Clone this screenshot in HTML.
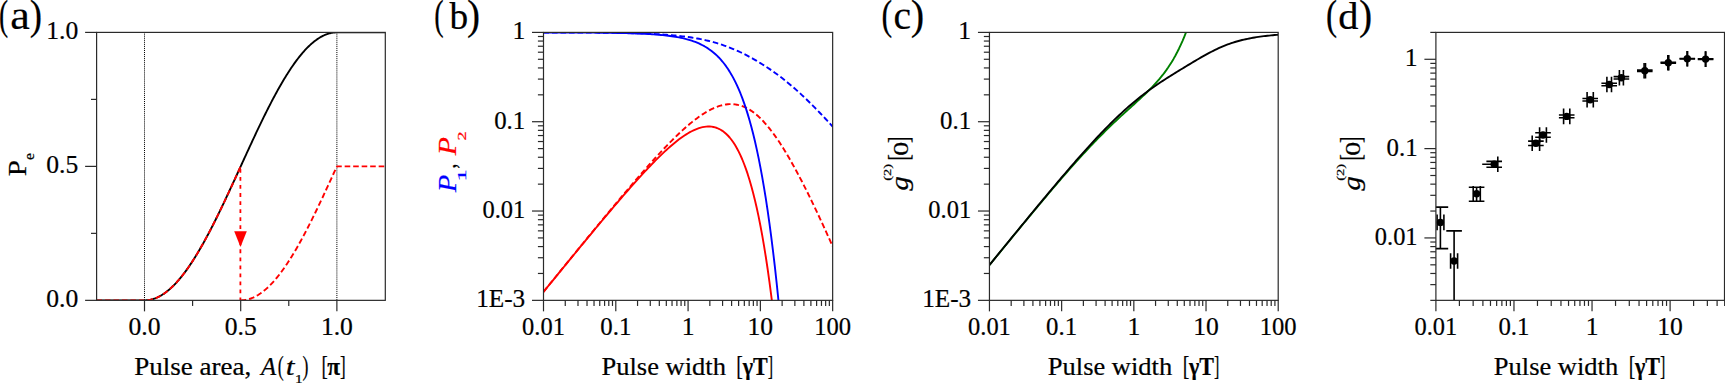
<!DOCTYPE html>
<html lang="en">
<head>
<meta charset="utf-8">
<title>Two-photon emission figure</title>
<style>
html,body{margin:0;padding:0;background:#fff;}
body{width:1725px;height:384px;overflow:hidden;}
svg{display:block;font-family:"Liberation Serif", serif;}
text{stroke-width:0.22px;paint-order:stroke fill;}
</style>
</head>
<body>
<svg width="1725" height="384" viewBox="0 0 1725 384">
<rect width="1725" height="384" fill="#fff"/>
<g id="panel-a">
<line x1="144.5" y1="32.4" x2="144.5" y2="300.35" stroke="#000" stroke-width="1.0" stroke-dasharray="1 0.96"/>
<line x1="336.88" y1="32.4" x2="336.88" y2="300.35" stroke="#000" stroke-width="1.0" stroke-dasharray="1 0.96"/>
<clipPath id="clipa"><rect x="96.6" y="32.4" width="288.7" height="267.95"/></clipPath>
<g clip-path="url(#clipa)">
<path d="M96.41 300.35 L97.13 300.35 L97.85 300.35 L98.57 300.35 L99.3 300.35 L100.02 300.35 L100.74 300.35 L101.47 300.35 L102.19 300.35 L102.91 300.35 L103.64 300.35 L104.36 300.35 L105.08 300.35 L105.81 300.35 L106.53 300.35 L107.25 300.35 L107.98 300.35 L108.7 300.35 L109.42 300.35 L110.15 300.35 L110.87 300.35 L111.59 300.35 L112.32 300.35 L113.04 300.35 L113.76 300.35 L114.49 300.35 L115.21 300.35 L115.93 300.35 L116.66 300.35 L117.38 300.35 L118.1 300.35 L118.83 300.35 L119.55 300.35 L120.27 300.35 L120.99 300.35 L121.72 300.35 L122.44 300.35 L123.16 300.35 L123.89 300.35 L124.61 300.35 L125.33 300.35 L126.06 300.35 L126.78 300.35 L127.5 300.35 L128.23 300.35 L128.95 300.35 L129.67 300.35 L130.4 300.35 L131.12 300.35 L131.84 300.35 L132.57 300.35 L133.29 300.35 L134.01 300.35 L134.74 300.35 L135.46 300.35 L136.18 300.35 L136.91 300.35 L137.63 300.35 L138.35 300.35 L139.08 300.35 L139.8 300.35 L140.52 300.35 L141.25 300.35 L141.97 300.35 L142.69 300.35 L143.42 300.35 L144.14 300.35 L144.86 300.35 L145.58 300.33 L146.31 300.29 L147.03 300.24 L147.75 300.16 L148.48 300.07 L149.2 299.96 L149.92 299.82 L150.65 299.68 L151.37 299.51 L152.09 299.32 L152.82 299.12 L153.54 298.89 L154.26 298.65 L154.99 298.39 L155.71 298.11 L156.43 297.81 L157.16 297.5 L157.88 297.16 L158.6 296.81 L159.33 296.44 L160.05 296.05 L160.77 295.65 L161.5 295.22 L162.22 294.78 L162.94 294.32 L163.67 293.84 L164.39 293.35 L165.11 292.83 L165.84 292.3 L166.56 291.75 L167.28 291.18 L168.01 290.6 L168.73 290 L169.45 289.38 L170.17 288.75 L170.9 288.09 L171.62 287.42 L172.34 286.74 L173.07 286.03 L173.79 285.31 L174.51 284.58 L175.24 283.82 L175.96 283.05 L176.68 282.27 L177.41 281.47 L178.13 280.65 L178.85 279.81 L179.58 278.97 L180.3 278.1 L181.02 277.22 L181.75 276.32 L182.47 275.41 L183.19 274.48 L183.92 273.54 L184.64 272.58 L185.36 271.61 L186.09 270.63 L186.81 269.62 L187.53 268.61 L188.26 267.58 L188.98 266.54 L189.7 265.48 L190.43 264.41 L191.15 263.32 L191.87 262.22 L192.59 261.11 L193.32 259.98 L194.04 258.85 L194.76 257.69 L195.49 256.53 L196.21 255.35 L196.93 254.16 L197.66 252.96 L198.38 251.75 L199.1 250.52 L199.83 249.29 L200.55 248.04 L201.27 246.78 L202 245.51 L202.72 244.22 L203.44 242.93 L204.17 241.63 L204.89 240.31 L205.61 238.99 L206.34 237.65 L207.06 236.31 L207.78 234.95 L208.51 233.59 L209.23 232.22 L209.95 230.83 L210.68 229.44 L211.4 228.04 L212.12 226.63 L212.85 225.22 L213.57 223.79 L214.29 222.36 L215.02 220.92 L215.74 219.47 L216.46 218.01 L217.18 216.55 L217.91 215.08 L218.63 213.6 L219.35 212.11 L220.08 210.62 L220.8 209.13 L221.52 207.63 L222.25 206.12 L222.97 204.6 L223.69 203.08 L224.42 201.56 L225.14 200.03 L225.86 198.5 L226.59 196.96 L227.31 195.42 L228.03 193.87 L228.76 192.32 L229.48 190.76 L230.2 189.21 L230.93 187.65 L231.65 186.08 L232.37 184.52 L233.1 182.95 L233.82 181.38 L234.54 179.8 L235.27 178.23 L235.99 176.65 L236.71 175.07 L237.44 173.49 L238.16 171.91 L238.88 170.33 L239.61 168.75 L240.33 167.17 L241.05 165.58 L241.77 164 L242.5 162.42 L243.22 160.84 L243.94 159.26 L244.67 157.68 L245.39 156.1 L246.11 154.52 L246.84 152.95 L247.56 151.37 L248.28 149.8 L249.01 148.23 L249.73 146.67 L250.45 145.1 L251.18 143.54 L251.9 141.99 L252.62 140.43 L253.35 138.88 L254.07 137.33 L254.79 135.79 L255.52 134.25 L256.24 132.72 L256.96 131.19 L257.69 129.67 L258.41 128.15 L259.13 126.63 L259.86 125.12 L260.58 123.62 L261.3 122.13 L262.03 120.64 L262.75 119.15 L263.47 117.67 L264.2 116.2 L264.92 114.74 L265.64 113.28 L266.36 111.83 L267.09 110.39 L267.81 108.96 L268.53 107.53 L269.26 106.12 L269.98 104.71 L270.7 103.31 L271.43 101.92 L272.15 100.53 L272.87 99.16 L273.6 97.8 L274.32 96.44 L275.04 95.1 L275.77 93.76 L276.49 92.44 L277.21 91.12 L277.94 89.82 L278.66 88.53 L279.38 87.24 L280.11 85.97 L280.83 84.71 L281.55 83.46 L282.28 82.23 L283 81 L283.72 79.79 L284.45 78.59 L285.17 77.4 L285.89 76.22 L286.62 75.06 L287.34 73.9 L288.06 72.77 L288.78 71.64 L289.51 70.53 L290.23 69.43 L290.95 68.34 L291.68 67.27 L292.4 66.21 L293.12 65.17 L293.85 64.14 L294.57 63.13 L295.29 62.12 L296.02 61.14 L296.74 60.17 L297.46 59.21 L298.19 58.27 L298.91 57.34 L299.63 56.43 L300.36 55.53 L301.08 54.65 L301.8 53.78 L302.53 52.94 L303.25 52.1 L303.97 51.28 L304.7 50.48 L305.42 49.7 L306.14 48.93 L306.87 48.17 L307.59 47.44 L308.31 46.72 L309.04 46.01 L309.76 45.33 L310.48 44.66 L311.21 44 L311.93 43.37 L312.65 42.75 L313.37 42.15 L314.1 41.57 L314.82 41 L315.54 40.45 L316.27 39.92 L316.99 39.4 L317.71 38.91 L318.44 38.43 L319.16 37.97 L319.88 37.53 L320.61 37.1 L321.33 36.7 L322.05 36.31 L322.78 35.94 L323.5 35.59 L324.22 35.25 L324.95 34.94 L325.67 34.64 L326.39 34.36 L327.12 34.1 L327.84 33.86 L328.56 33.63 L329.29 33.43 L330.01 33.24 L330.73 33.07 L331.46 32.93 L332.18 32.79 L332.9 32.68 L333.63 32.59 L334.35 32.51 L335.07 32.46 L335.8 32.42 L336.52 32.4 L337.24 32.4 L337.96 32.4 L338.69 32.4 L339.41 32.4 L340.13 32.4 L340.86 32.4 L341.58 32.4 L342.3 32.4 L343.03 32.4 L343.75 32.4 L344.47 32.4 L345.2 32.4 L345.92 32.4 L346.64 32.4 L347.37 32.4 L348.09 32.4 L348.81 32.4 L349.54 32.4 L350.26 32.4 L350.98 32.4 L351.71 32.4 L352.43 32.4 L353.15 32.4 L353.88 32.4 L354.6 32.4 L355.32 32.4 L356.05 32.4 L356.77 32.4 L357.49 32.4 L358.22 32.4 L358.94 32.4 L359.66 32.4 L360.39 32.4 L361.11 32.4 L361.83 32.4 L362.55 32.4 L363.28 32.4 L364 32.4 L364.72 32.4 L365.45 32.4 L366.17 32.4 L366.89 32.4 L367.62 32.4 L368.34 32.4 L369.06 32.4 L369.79 32.4 L370.51 32.4 L371.23 32.4 L371.96 32.4 L372.68 32.4 L373.4 32.4 L374.13 32.4 L374.85 32.4 L375.57 32.4 L376.3 32.4 L377.02 32.4 L377.74 32.4 L378.47 32.4 L379.19 32.4 L379.91 32.4 L380.64 32.4 L381.36 32.4 L382.08 32.4 L382.81 32.4 L383.53 32.4 L384.25 32.4 L384.98 32.4" fill="none" stroke="#000" stroke-width="1.9" stroke-linejoin="round"/>
<path d="M96.41 300.35 L97.13 300.35 L97.86 300.35 L98.58 300.35 L99.31 300.35 L100.03 300.35 L100.76 300.35 L101.48 300.35 L102.21 300.35 L102.93 300.35 L103.66 300.35 L104.38 300.35 L105.11 300.35 L105.83 300.35 L106.56 300.35 L107.28 300.35 L108.01 300.35 L108.73 300.35 L109.46 300.35 L110.18 300.35 L110.91 300.35 L111.63 300.35 L112.36 300.35 L113.08 300.35 L113.81 300.35 L114.53 300.35 L115.26 300.35 L115.98 300.35 L116.71 300.35 L117.43 300.35 L118.16 300.35 L118.88 300.35 L119.61 300.35 L120.33 300.35 L121.06 300.35 L121.78 300.35 L122.51 300.35 L123.23 300.35 L123.96 300.35 L124.68 300.35 L125.41 300.35 L126.13 300.35 L126.86 300.35 L127.58 300.35 L128.31 300.35 L129.03 300.35 L129.76 300.35 L130.48 300.35 L131.21 300.35 L131.93 300.35 L132.66 300.35 L133.38 300.35 L134.11 300.35 L134.83 300.35 L135.56 300.35 L136.28 300.35 L137.01 300.35 L137.73 300.35 L138.46 300.35 L139.18 300.35 L139.91 300.35 L140.63 300.35 L141.36 300.35 L142.08 300.35 L142.81 300.35 L143.53 300.35 L144.26 300.35 L144.98 300.35 L145.71 300.32 L146.43 300.28 L147.16 300.22 L147.88 300.15 L148.61 300.05 L149.33 299.93 L150.06 299.8 L150.78 299.65 L151.51 299.47 L152.23 299.28 L152.96 299.07 L153.68 298.85 L154.41 298.6 L155.13 298.33 L155.86 298.05 L156.58 297.75 L157.31 297.43 L158.03 297.09 L158.76 296.73 L159.48 296.36 L160.21 295.97 L160.93 295.55 L161.66 295.12 L162.38 294.68 L163.11 294.21 L163.83 293.73 L164.56 293.23 L165.28 292.71 L166.01 292.17 L166.73 291.61 L167.46 291.04 L168.18 290.45 L168.91 289.85 L169.64 289.22 L170.36 288.58 L171.09 287.92 L171.81 287.25 L172.54 286.55 L173.26 285.84 L173.99 285.12 L174.71 284.37 L175.44 283.61 L176.16 282.84 L176.89 282.05 L177.61 281.24 L178.34 280.41 L179.06 279.57 L179.79 278.72 L180.51 277.84 L181.24 276.96 L181.96 276.05 L182.69 275.13 L183.41 274.2 L184.14 273.25 L184.86 272.29 L185.59 271.31 L186.31 270.32 L187.04 269.31 L187.76 268.28 L188.49 267.25 L189.21 266.2 L189.94 265.13 L190.66 264.05 L191.39 262.96 L192.11 261.85 L192.84 260.74 L193.56 259.6 L194.29 258.46 L195.01 257.3 L195.74 256.13 L196.46 254.94 L197.19 253.75 L197.91 252.54 L198.64 251.32 L199.36 250.08 L200.09 248.84 L200.81 247.58 L201.54 246.32 L202.26 245.04 L202.99 243.75 L203.71 242.45 L204.44 241.14 L205.16 239.82 L205.89 238.48 L206.61 237.14 L207.34 235.79 L208.06 234.43 L208.79 233.06 L209.51 231.68 L210.24 230.29 L210.96 228.89 L211.69 227.48 L212.41 226.06 L213.14 224.64 L213.86 223.21 L214.59 221.77 L215.31 220.32 L216.04 218.86 L216.76 217.4 L217.49 215.93 L218.21 214.45 L218.94 212.97 L219.66 211.48 L220.39 209.98 L221.11 208.48 L221.84 206.97 L222.56 205.46 L223.29 203.94 L224.01 202.41 L224.74 200.88 L225.46 199.34 L226.19 197.81 L226.91 196.26 L227.64 194.71 L228.36 193.16 L229.09 191.6 L229.81 190.04 L230.54 188.48 L231.26 186.92 L231.99 185.35 L232.71 183.77 L233.44 182.2 L234.16 180.62 L234.89 179.05 L235.61 177.47 L236.34 175.88 L237.06 174.3 L237.79 172.72 L238.51 171.13 L239.24 169.55 L239.96 167.96 L240.69 166.38" fill="none" stroke="#ff0000" stroke-width="1.9" stroke-dasharray="5.6 2.9"/>
<path d="M240.69 300.35 L241.42 300.34 L242.14 300.31 L242.87 300.27 L243.59 300.2 L244.32 300.12 L245.04 300.01 L245.77 299.89 L246.49 299.75 L247.22 299.59 L247.94 299.41 L248.67 299.22 L249.39 299 L250.12 298.77 L250.84 298.51 L251.57 298.24 L252.29 297.95 L253.02 297.65 L253.74 297.32 L254.47 296.97 L255.19 296.61 L255.92 296.23 L256.64 295.83 L257.37 295.41 L258.09 294.98 L258.82 294.52 L259.54 294.05 L260.27 293.56 L260.99 293.05 L261.72 292.53 L262.44 291.99 L263.17 291.43 L263.89 290.85 L264.62 290.25 L265.34 289.64 L266.07 289.01 L266.79 288.36 L267.52 287.7 L268.24 287.02 L268.97 286.32 L269.69 285.6 L270.42 284.87 L271.14 284.12 L271.87 283.36 L272.59 282.58 L273.32 281.78 L274.04 280.97 L274.77 280.14 L275.49 279.29 L276.22 278.43 L276.94 277.55 L277.67 276.66 L278.39 275.75 L279.12 274.83 L279.84 273.89 L280.57 272.93 L281.29 271.96 L282.02 270.98 L282.74 269.98 L283.47 268.97 L284.19 267.94 L284.92 266.9 L285.64 265.84 L286.37 264.77 L287.09 263.69 L287.82 262.59 L288.54 261.48 L289.27 260.36 L289.99 259.22 L290.72 258.07 L291.44 256.91 L292.17 255.73 L292.89 254.55 L293.62 253.34 L294.34 252.13 L295.07 250.91 L295.79 249.67 L296.52 248.42 L297.24 247.16 L297.97 245.89 L298.69 244.61 L299.42 243.32 L300.14 242.01 L300.87 240.7 L301.59 239.37 L302.32 238.04 L303.04 236.69 L303.77 235.34 L304.49 233.97 L305.22 232.6 L305.94 231.21 L306.67 229.82 L307.39 228.42 L308.12 227.01 L308.84 225.59 L309.57 224.16 L310.29 222.73 L311.02 221.29 L311.74 219.84 L312.47 218.38 L313.2 216.91 L313.92 215.44 L314.65 213.96 L315.37 212.47 L316.1 210.98 L316.82 209.48 L317.55 207.98 L318.27 206.47 L319 204.95 L319.72 203.43 L320.45 201.9 L321.17 200.37 L321.9 198.83 L322.62 197.29 L323.35 195.75 L324.07 194.2 L324.8 192.64 L325.52 191.08 L326.25 189.52 L326.97 187.96 L327.7 186.39 L328.42 184.82 L329.15 183.25 L329.87 181.68 L330.6 180.1 L331.32 178.52 L332.05 176.94 L332.77 175.36 L333.5 173.77 L334.22 172.19 L334.95 170.6 L335.67 169.02 L336.4 167.43 L337.12 166.38 L337.85 166.38 L338.57 166.38 L339.3 166.38 L340.02 166.38 L340.75 166.38 L341.47 166.38 L342.2 166.38 L342.92 166.38 L343.65 166.38 L344.37 166.38 L345.1 166.38 L345.82 166.38 L346.55 166.38 L347.27 166.38 L348 166.38 L348.72 166.38 L349.45 166.38 L350.17 166.38 L350.9 166.38 L351.62 166.38 L352.35 166.38 L353.07 166.38 L353.8 166.38 L354.52 166.38 L355.25 166.38 L355.97 166.38 L356.7 166.38 L357.42 166.38 L358.15 166.38 L358.87 166.38 L359.6 166.38 L360.32 166.38 L361.05 166.38 L361.77 166.38 L362.5 166.38 L363.22 166.38 L363.95 166.38 L364.67 166.38 L365.4 166.38 L366.12 166.38 L366.85 166.38 L367.57 166.38 L368.3 166.38 L369.02 166.38 L369.75 166.38 L370.47 166.38 L371.2 166.38 L371.92 166.38 L372.65 166.38 L373.37 166.38 L374.1 166.38 L374.82 166.38 L375.55 166.38 L376.27 166.38 L377 166.38 L377.72 166.38 L378.45 166.38 L379.17 166.38 L379.9 166.38 L380.62 166.38 L381.35 166.38 L382.07 166.38 L382.8 166.38 L383.52 166.38 L384.25 166.38 L384.98 166.38" fill="none" stroke="#ff0000" stroke-width="1.9" stroke-dasharray="5.6 2.9"/>
<line x1="240.39" y1="166.38" x2="240.39" y2="300.35" stroke="#ff0000" stroke-width="1.8" stroke-dasharray="3.8 4.24" stroke-dashoffset="5.45"/>
<polygon points="234.2,231.2 246.8,231.2 240.5,246.9" fill="#ff0000"/>
</g>
<rect x="96.6" y="32.4" width="288.7" height="267.95" fill="none" stroke="#2a2a2a" stroke-width="1.2"/>
<line x1="85.1" y1="300.35" x2="96.6" y2="300.35" stroke="#2a2a2a" stroke-width="1.2" />
<line x1="144.5" y1="300.35" x2="144.5" y2="311.35" stroke="#2a2a2a" stroke-width="1.2" />
<line x1="85.1" y1="166.38" x2="96.6" y2="166.38" stroke="#2a2a2a" stroke-width="1.2" />
<line x1="240.69" y1="300.35" x2="240.69" y2="311.35" stroke="#2a2a2a" stroke-width="1.2" />
<line x1="85.1" y1="32.4" x2="96.6" y2="32.4" stroke="#2a2a2a" stroke-width="1.2" />
<line x1="336.88" y1="300.35" x2="336.88" y2="311.35" stroke="#2a2a2a" stroke-width="1.2" />
<line x1="91" y1="233.36" x2="96.6" y2="233.36" stroke="#2a2a2a" stroke-width="1.2" />
<line x1="192.59" y1="300.35" x2="192.59" y2="305.95" stroke="#2a2a2a" stroke-width="1.2" />
<line x1="91" y1="99.39" x2="96.6" y2="99.39" stroke="#2a2a2a" stroke-width="1.2" />
<line x1="288.78" y1="300.35" x2="288.78" y2="305.95" stroke="#2a2a2a" stroke-width="1.2" />
<text x="78.3" y="307.35" font-size="25.6" text-anchor="end" fill="#000" stroke="#000" >0.0</text>
<text x="144.5" y="335.3" font-size="25.6" text-anchor="middle" fill="#000" stroke="#000" >0.0</text>
<text x="78.3" y="173.38" font-size="25.6" text-anchor="end" fill="#000" stroke="#000" >0.5</text>
<text x="240.69" y="335.3" font-size="25.6" text-anchor="middle" fill="#000" stroke="#000" >0.5</text>
<text x="78.3" y="39.4" font-size="25.6" text-anchor="end" fill="#000" stroke="#000" >1.0</text>
<text x="336.88" y="335.3" font-size="25.6" text-anchor="middle" fill="#000" stroke="#000" >1.0</text>
<text transform="translate(-0.88,29.2) scale(0.6465,1.0000)" font-size="42.6" fill="#000" stroke="#000">(</text>
<text transform="translate(10.25,29.2) scale(1.1026,1.0000)" font-size="40" fill="#000" stroke="#000">a</text>
<text transform="translate(29.85,29.2) scale(0.8650,1.0000)" font-size="42.6" fill="#000" stroke="#000">)</text>
<text transform="translate(134.26,375.1) scale(1.0603,1.0000)" font-size="25.5" fill="#000" stroke="#000">Pulse area,</text>
<text transform="translate(261.06,375.1) scale(0.9746,1.0000)" font-size="25.5" fill="#000" stroke="#000" font-style="italic">A</text>
<text transform="translate(277.63,375.1) scale(0.6488,1.0000)" font-size="27.5" fill="#000" stroke="#000">(</text>
<text transform="translate(285.65,375.1) scale(1.2356,1.0000)" font-size="25.5" fill="#000" stroke="#000" font-style="italic">t</text>
<text transform="translate(294.99,383) scale(1.2153,1.0000)" font-size="12.5" fill="#000" stroke="#000">1</text>
<text transform="translate(302.44,375.1) scale(0.6488,1.0000)" font-size="27.5" fill="#000" stroke="#000">)</text>
<text transform="translate(321.6,375.1) scale(0.6859,1.0000)" font-size="27.5" fill="#000" stroke="#000">[</text>
<text transform="translate(327.13,375.1) scale(0.9147,1.0000)" font-size="25.5" fill="#000" stroke="#000" font-weight="bold">π</text>
<text transform="translate(339.9,375.1) scale(0.6206,1.0000)" font-size="27.5" fill="#000" stroke="#000">]</text>
<text transform="translate(25.5,176.3) rotate(-90) scale(1.1405,1.0278)" font-size="25.5" fill="#000" stroke="#000">P</text>
<text transform="translate(33.7,159.91) rotate(-90) scale(1.1164,1.0000)" font-size="14" fill="#000" stroke="#000">e</text>
</g>
<g id="panel-b">
<clipPath id="clipb"><rect x="543.5" y="32.4" width="289.15" height="267.95"/></clipPath>
<g clip-path="url(#clipb)" fill="none" stroke-width="1.9" stroke-linejoin="round">
<path d="M543.5 291.82 L545.31 289.6 L547.11 287.37 L548.92 285.15 L550.73 282.92 L552.54 280.7 L554.34 278.48 L556.15 276.25 L557.96 274.03 L559.77 271.81 L561.57 269.59 L563.38 267.37 L565.19 265.15 L566.99 262.93 L568.8 260.72 L570.61 258.5 L572.42 256.29 L574.22 254.07 L576.03 251.86 L577.84 249.65 L579.64 247.44 L581.45 245.23 L583.26 243.02 L585.07 240.81 L586.87 238.61 L588.68 236.41 L590.49 234.21 L592.3 232.01 L594.1 229.81 L595.91 227.61 L597.72 225.42 L599.52 223.23 L601.33 221.04 L603.14 218.86 L604.95 216.67 L606.75 214.49 L608.56 212.32 L610.37 210.14 L612.18 207.97 L613.98 205.81 L615.79 203.64 L617.6 201.49 L619.4 199.33 L621.21 197.18 L623.02 195.04 L624.83 192.9 L626.63 190.77 L628.44 188.64 L630.25 186.52 L632.06 184.4 L633.86 182.3 L635.67 180.2 L637.48 178.1 L639.28 176.02 L641.09 173.94 L642.9 171.87 L644.71 169.82 L646.51 167.77 L648.32 165.73 L650.13 163.71 L651.93 161.7 L653.74 159.7 L655.55 157.71 L657.36 155.74 L659.16 153.78 L660.97 151.84 L662.78 149.92 L664.59 148.01 L666.39 146.12 L668.2 144.26 L670.01 142.41 L671.81 140.59 L673.62 138.78 L675.43 137.01 L677.24 135.26 L679.04 133.53 L680.85 131.84 L682.66 130.17 L684.47 128.54 L686.27 126.94 L688.08 125.37 L689.89 123.84 L691.69 122.36 L693.5 120.91 L695.31 119.5 L697.12 118.14 L698.92 116.83 L700.73 115.56 L702.54 114.35 L704.35 113.19 L706.15 112.09 L707.96 111.05 L709.77 110.07 L711.57 109.16 L713.38 108.31 L715.19 107.53 L717 106.83 L718.8 106.2 L720.61 105.65 L722.42 105.18 L724.23 104.79 L726.03 104.49 L727.84 104.29 L729.65 104.17 L731.45 104.15 L733.26 104.23 L735.07 104.41 L736.88 104.69 L738.68 105.07 L740.49 105.56 L742.3 106.16 L744.1 106.87 L745.91 107.69 L747.72 108.63 L749.53 109.67 L751.33 110.83 L753.14 112.1 L754.95 113.48 L756.76 114.97 L758.56 116.57 L760.37 118.28 L762.18 120.1 L763.98 122.02 L765.79 124.05 L767.6 126.17 L769.41 128.39 L771.21 130.71 L773.02 133.11 L774.83 135.6 L776.64 138.18 L778.44 140.84 L780.25 143.58 L782.06 146.4 L783.86 149.28 L785.67 152.24 L787.48 155.26 L789.29 158.35 L791.09 161.5 L792.9 164.71 L794.71 167.97 L796.51 171.29 L798.32 174.67 L800.13 178.09 L801.94 181.56 L803.74 185.08 L805.55 188.64 L807.36 192.25 L809.17 195.89 L810.97 199.58 L812.78 203.3 L814.59 207.06 L816.39 210.86 L818.2 214.69 L820.01 218.55 L821.82 222.44 L823.62 226.36 L825.43 230.3 L827.24 234.28 L829.05 238.27 L830.85 242.3 L832.66 246.34" stroke="#ff0000" stroke-dasharray="5.6 2.9"/>
<path d="M543.5 291.9 L545.31 289.68 L547.11 287.45 L548.92 285.24 L550.73 283.02 L552.54 280.8 L554.34 278.58 L556.15 276.37 L557.96 274.15 L559.77 271.94 L561.57 269.72 L563.38 267.51 L565.19 265.3 L566.99 263.09 L568.8 260.89 L570.61 258.68 L572.42 256.47 L574.22 254.27 L576.03 252.07 L577.84 249.87 L579.64 247.67 L581.45 245.48 L583.26 243.29 L585.07 241.1 L586.87 238.91 L588.68 236.72 L590.49 234.54 L592.3 232.36 L594.1 230.18 L595.91 228.01 L597.72 225.84 L599.52 223.68 L601.33 221.51 L603.14 219.36 L604.95 217.2 L606.75 215.05 L608.56 212.91 L610.37 210.77 L612.18 208.64 L613.98 206.51 L615.79 204.39 L617.6 202.28 L619.4 200.18 L621.21 198.08 L623.02 195.99 L624.83 193.9 L626.63 191.83 L628.44 189.77 L630.25 187.71 L632.06 185.67 L633.86 183.64 L635.67 181.62 L637.48 179.61 L639.28 177.61 L641.09 175.63 L642.9 173.67 L644.71 171.72 L646.51 169.78 L648.32 167.87 L650.13 165.97 L651.93 164.1 L653.74 162.24 L655.55 160.41 L657.36 158.6 L659.16 156.82 L660.97 155.06 L662.78 153.33 L664.59 151.63 L666.39 149.97 L668.2 148.33 L670.01 146.73 L671.81 145.17 L673.62 143.65 L675.43 142.17 L677.24 140.74 L679.04 139.35 L680.85 138.01 L682.66 136.73 L684.47 135.5 L686.27 134.34 L688.08 133.23 L689.89 132.19 L691.69 131.23 L693.5 130.34 L695.31 129.52 L697.12 128.79 L698.92 128.16 L700.73 127.61 L702.54 127.17 L704.35 126.83 L706.15 126.6 L707.96 126.49 L709.77 126.51 L711.57 126.66 L713.38 126.96 L715.19 127.4 L717 128 L718.8 128.77 L720.61 129.72 L722.42 130.85 L724.23 132.19 L726.03 133.73 L727.84 135.51 L729.65 137.51 L731.45 139.77 L733.26 142.3 L735.07 145.1 L736.88 148.21 L738.68 151.63 L740.49 155.39 L742.3 159.5 L744.1 163.99 L745.91 168.88 L747.72 174.18 L749.53 179.94 L751.33 186.17 L753.14 192.9 L754.95 200.16 L756.76 207.98 L758.56 216.4 L760.37 225.45 L762.18 235.17 L763.98 245.6 L765.79 256.77 L767.6 268.75 L769.41 281.56 L771.21 295.27 L773.02 309.91 L774.83 325.56 L776.64 342.27 L778.44 360.11 L780.25 379.13 L782.06 399.41 L783.86 421.02 L785.67 444.05 L787.48 468.57 L789.29 478.98 L791.09 478.98 L792.9 478.98 L794.71 478.98 L796.51 478.98 L798.32 478.98 L800.13 478.98 L801.94 478.98 L803.74 478.98 L805.55 478.98 L807.36 478.98 L809.17 478.98 L810.97 478.98 L812.78 478.98 L814.59 478.98 L816.39 478.98 L818.2 478.98 L820.01 478.98 L821.82 478.98 L823.62 478.98 L825.43 478.98 L827.24 478.98 L829.05 478.98 L830.85 478.98 L832.66 478.98" stroke="#ff0000"/>
<path d="M543.5 32.45 L545.31 32.45 L547.11 32.45 L548.92 32.46 L550.73 32.46 L552.54 32.46 L554.34 32.47 L556.15 32.47 L557.96 32.48 L559.77 32.48 L561.57 32.49 L563.38 32.49 L565.19 32.5 L566.99 32.5 L568.8 32.51 L570.61 32.51 L572.42 32.52 L574.22 32.53 L576.03 32.54 L577.84 32.54 L579.64 32.55 L581.45 32.56 L583.26 32.57 L585.07 32.58 L586.87 32.59 L588.68 32.6 L590.49 32.62 L592.3 32.63 L594.1 32.64 L595.91 32.66 L597.72 32.67 L599.52 32.69 L601.33 32.71 L603.14 32.72 L604.95 32.74 L606.75 32.76 L608.56 32.78 L610.37 32.81 L612.18 32.83 L613.98 32.86 L615.79 32.88 L617.6 32.91 L619.4 32.94 L621.21 32.97 L623.02 33.01 L624.83 33.04 L626.63 33.08 L628.44 33.12 L630.25 33.16 L632.06 33.21 L633.86 33.26 L635.67 33.31 L637.48 33.36 L639.28 33.41 L641.09 33.47 L642.9 33.54 L644.71 33.6 L646.51 33.67 L648.32 33.75 L650.13 33.83 L651.93 33.91 L653.74 34 L655.55 34.09 L657.36 34.19 L659.16 34.3 L660.97 34.41 L662.78 34.52 L664.59 34.64 L666.39 34.77 L668.2 34.91 L670.01 35.06 L671.81 35.21 L673.62 35.37 L675.43 35.54 L677.24 35.72 L679.04 35.91 L680.85 36.11 L682.66 36.32 L684.47 36.54 L686.27 36.78 L688.08 37.02 L689.89 37.28 L691.69 37.56 L693.5 37.85 L695.31 38.15 L697.12 38.47 L698.92 38.8 L700.73 39.15 L702.54 39.52 L704.35 39.91 L706.15 40.31 L707.96 40.74 L709.77 41.18 L711.57 41.65 L713.38 42.13 L715.19 42.64 L717 43.17 L718.8 43.73 L720.61 44.3 L722.42 44.9 L724.23 45.53 L726.03 46.17 L727.84 46.85 L729.65 47.54 L731.45 48.27 L733.26 49.01 L735.07 49.79 L736.88 50.58 L738.68 51.4 L740.49 52.25 L742.3 53.12 L744.1 54.01 L745.91 54.93 L747.72 55.87 L749.53 56.83 L751.33 57.82 L753.14 58.83 L754.95 59.86 L756.76 60.91 L758.56 61.99 L760.37 63.08 L762.18 64.2 L763.98 65.35 L765.79 66.51 L767.6 67.7 L769.41 68.91 L771.21 70.15 L773.02 71.41 L774.83 72.69 L776.64 74 L778.44 75.34 L780.25 76.7 L782.06 78.09 L783.86 79.5 L785.67 80.94 L787.48 82.41 L789.29 83.9 L791.09 85.42 L792.9 86.97 L794.71 88.54 L796.51 90.14 L798.32 91.77 L800.13 93.42 L801.94 95.09 L803.74 96.78 L805.55 98.5 L807.36 100.25 L809.17 102.01 L810.97 103.8 L812.78 105.6 L814.59 107.43 L816.39 109.27 L818.2 111.13 L820.01 113.01 L821.82 114.91 L823.62 116.83 L825.43 118.75 L827.24 120.7 L829.05 122.66 L830.85 124.63 L832.66 126.62" stroke="#0000ff" stroke-dasharray="5.6 2.9"/>
<path d="M543.5 32.45 L545.31 32.45 L547.11 32.46 L548.92 32.46 L550.73 32.46 L552.54 32.47 L554.34 32.47 L556.15 32.47 L557.96 32.48 L559.77 32.48 L561.57 32.49 L563.38 32.49 L565.19 32.5 L566.99 32.51 L568.8 32.51 L570.61 32.52 L572.42 32.53 L574.22 32.53 L576.03 32.54 L577.84 32.55 L579.64 32.56 L581.45 32.57 L583.26 32.58 L585.07 32.59 L586.87 32.6 L588.68 32.61 L590.49 32.63 L592.3 32.64 L594.1 32.66 L595.91 32.67 L597.72 32.69 L599.52 32.71 L601.33 32.72 L603.14 32.74 L604.95 32.76 L606.75 32.79 L608.56 32.81 L610.37 32.84 L612.18 32.86 L613.98 32.89 L615.79 32.92 L617.6 32.96 L619.4 32.99 L621.21 33.03 L623.02 33.07 L624.83 33.11 L626.63 33.15 L628.44 33.2 L630.25 33.25 L632.06 33.31 L633.86 33.37 L635.67 33.43 L637.48 33.49 L639.28 33.57 L641.09 33.64 L642.9 33.72 L644.71 33.81 L646.51 33.9 L648.32 34 L650.13 34.11 L651.93 34.22 L653.74 34.35 L655.55 34.48 L657.36 34.62 L659.16 34.77 L660.97 34.93 L662.78 35.11 L664.59 35.3 L666.39 35.5 L668.2 35.72 L670.01 35.95 L671.81 36.2 L673.62 36.47 L675.43 36.77 L677.24 37.08 L679.04 37.42 L680.85 37.78 L682.66 38.18 L684.47 38.6 L686.27 39.06 L688.08 39.56 L689.89 40.09 L691.69 40.67 L693.5 41.29 L695.31 41.96 L697.12 42.69 L698.92 43.47 L700.73 44.32 L702.54 45.23 L704.35 46.21 L706.15 47.28 L707.96 48.42 L709.77 49.66 L711.57 51 L713.38 52.44 L715.19 53.99 L717 55.67 L718.8 57.47 L720.61 59.42 L722.42 61.51 L724.23 63.77 L726.03 66.19 L727.84 68.81 L729.65 71.62 L731.45 74.64 L733.26 77.89 L735.07 81.39 L736.88 85.14 L738.68 89.16 L740.49 93.49 L742.3 98.12 L744.1 103.1 L745.91 108.43 L747.72 114.14 L749.53 120.26 L751.33 126.81 L753.14 133.82 L754.95 141.32 L756.76 149.34 L758.56 157.91 L760.37 167.07 L762.18 176.86 L763.98 187.31 L765.79 198.47 L767.6 210.38 L769.41 223.08 L771.21 236.63 L773.02 251.07 L774.83 266.47 L776.64 282.87 L778.44 300.34 L780.25 318.95 L782.06 338.77 L783.86 359.86 L785.67 382.31 L787.48 406.19 L789.29 431.59 L791.09 458.61 L792.9 478.98 L794.71 478.98 L796.51 478.98 L798.32 478.98 L800.13 478.98 L801.94 478.98 L803.74 478.98 L805.55 478.98 L807.36 478.98 L809.17 478.98 L810.97 478.98 L812.78 478.98 L814.59 478.98 L816.39 478.98 L818.2 478.98 L820.01 478.98 L821.82 478.98 L823.62 478.98 L825.43 478.98 L827.24 478.98 L829.05 478.98 L830.85 478.98 L832.66 478.98" stroke="#0000ff"/>
</g>
<rect x="543.5" y="32.4" width="289.15" height="267.95" fill="none" stroke="#2a2a2a" stroke-width="1.2"/>
<line x1="543.5" y1="300.35" x2="543.5" y2="311.35" stroke="#2a2a2a" stroke-width="1.2" />
<line x1="565.26" y1="300.35" x2="565.26" y2="305.95" stroke="#2a2a2a" stroke-width="1.2" />
<line x1="577.99" y1="300.35" x2="577.99" y2="305.95" stroke="#2a2a2a" stroke-width="1.2" />
<line x1="587.02" y1="300.35" x2="587.02" y2="305.95" stroke="#2a2a2a" stroke-width="1.2" />
<line x1="594.03" y1="300.35" x2="594.03" y2="305.95" stroke="#2a2a2a" stroke-width="1.2" />
<line x1="599.75" y1="300.35" x2="599.75" y2="305.95" stroke="#2a2a2a" stroke-width="1.2" />
<line x1="604.59" y1="300.35" x2="604.59" y2="305.95" stroke="#2a2a2a" stroke-width="1.2" />
<line x1="608.78" y1="300.35" x2="608.78" y2="305.95" stroke="#2a2a2a" stroke-width="1.2" />
<line x1="612.48" y1="300.35" x2="612.48" y2="305.95" stroke="#2a2a2a" stroke-width="1.2" />
<line x1="615.79" y1="300.35" x2="615.79" y2="311.35" stroke="#2a2a2a" stroke-width="1.2" />
<line x1="637.55" y1="300.35" x2="637.55" y2="305.95" stroke="#2a2a2a" stroke-width="1.2" />
<line x1="650.28" y1="300.35" x2="650.28" y2="305.95" stroke="#2a2a2a" stroke-width="1.2" />
<line x1="659.31" y1="300.35" x2="659.31" y2="305.95" stroke="#2a2a2a" stroke-width="1.2" />
<line x1="666.32" y1="300.35" x2="666.32" y2="305.95" stroke="#2a2a2a" stroke-width="1.2" />
<line x1="672.04" y1="300.35" x2="672.04" y2="305.95" stroke="#2a2a2a" stroke-width="1.2" />
<line x1="676.88" y1="300.35" x2="676.88" y2="305.95" stroke="#2a2a2a" stroke-width="1.2" />
<line x1="681.07" y1="300.35" x2="681.07" y2="305.95" stroke="#2a2a2a" stroke-width="1.2" />
<line x1="684.77" y1="300.35" x2="684.77" y2="305.95" stroke="#2a2a2a" stroke-width="1.2" />
<line x1="688.08" y1="300.35" x2="688.08" y2="311.35" stroke="#2a2a2a" stroke-width="1.2" />
<line x1="709.84" y1="300.35" x2="709.84" y2="305.95" stroke="#2a2a2a" stroke-width="1.2" />
<line x1="722.57" y1="300.35" x2="722.57" y2="305.95" stroke="#2a2a2a" stroke-width="1.2" />
<line x1="731.6" y1="300.35" x2="731.6" y2="305.95" stroke="#2a2a2a" stroke-width="1.2" />
<line x1="738.61" y1="300.35" x2="738.61" y2="305.95" stroke="#2a2a2a" stroke-width="1.2" />
<line x1="744.33" y1="300.35" x2="744.33" y2="305.95" stroke="#2a2a2a" stroke-width="1.2" />
<line x1="749.17" y1="300.35" x2="749.17" y2="305.95" stroke="#2a2a2a" stroke-width="1.2" />
<line x1="753.36" y1="300.35" x2="753.36" y2="305.95" stroke="#2a2a2a" stroke-width="1.2" />
<line x1="757.06" y1="300.35" x2="757.06" y2="305.95" stroke="#2a2a2a" stroke-width="1.2" />
<line x1="760.37" y1="300.35" x2="760.37" y2="311.35" stroke="#2a2a2a" stroke-width="1.2" />
<line x1="782.13" y1="300.35" x2="782.13" y2="305.95" stroke="#2a2a2a" stroke-width="1.2" />
<line x1="794.86" y1="300.35" x2="794.86" y2="305.95" stroke="#2a2a2a" stroke-width="1.2" />
<line x1="803.89" y1="300.35" x2="803.89" y2="305.95" stroke="#2a2a2a" stroke-width="1.2" />
<line x1="810.9" y1="300.35" x2="810.9" y2="305.95" stroke="#2a2a2a" stroke-width="1.2" />
<line x1="816.62" y1="300.35" x2="816.62" y2="305.95" stroke="#2a2a2a" stroke-width="1.2" />
<line x1="821.46" y1="300.35" x2="821.46" y2="305.95" stroke="#2a2a2a" stroke-width="1.2" />
<line x1="825.65" y1="300.35" x2="825.65" y2="305.95" stroke="#2a2a2a" stroke-width="1.2" />
<line x1="829.35" y1="300.35" x2="829.35" y2="305.95" stroke="#2a2a2a" stroke-width="1.2" />
<line x1="832.66" y1="300.35" x2="832.66" y2="311.35" stroke="#2a2a2a" stroke-width="1.2" />
<line x1="532" y1="300.35" x2="543.5" y2="300.35" stroke="#2a2a2a" stroke-width="1.2" />
<line x1="537.9" y1="273.46" x2="543.5" y2="273.46" stroke="#2a2a2a" stroke-width="1.2" />
<line x1="537.9" y1="257.74" x2="543.5" y2="257.74" stroke="#2a2a2a" stroke-width="1.2" />
<line x1="537.9" y1="246.58" x2="543.5" y2="246.58" stroke="#2a2a2a" stroke-width="1.2" />
<line x1="537.9" y1="237.92" x2="543.5" y2="237.92" stroke="#2a2a2a" stroke-width="1.2" />
<line x1="537.9" y1="230.85" x2="543.5" y2="230.85" stroke="#2a2a2a" stroke-width="1.2" />
<line x1="537.9" y1="224.87" x2="543.5" y2="224.87" stroke="#2a2a2a" stroke-width="1.2" />
<line x1="537.9" y1="219.69" x2="543.5" y2="219.69" stroke="#2a2a2a" stroke-width="1.2" />
<line x1="537.9" y1="215.12" x2="543.5" y2="215.12" stroke="#2a2a2a" stroke-width="1.2" />
<line x1="532" y1="211.03" x2="543.5" y2="211.03" stroke="#2a2a2a" stroke-width="1.2" />
<line x1="537.9" y1="184.15" x2="543.5" y2="184.15" stroke="#2a2a2a" stroke-width="1.2" />
<line x1="537.9" y1="168.42" x2="543.5" y2="168.42" stroke="#2a2a2a" stroke-width="1.2" />
<line x1="537.9" y1="157.26" x2="543.5" y2="157.26" stroke="#2a2a2a" stroke-width="1.2" />
<line x1="537.9" y1="148.6" x2="543.5" y2="148.6" stroke="#2a2a2a" stroke-width="1.2" />
<line x1="537.9" y1="141.53" x2="543.5" y2="141.53" stroke="#2a2a2a" stroke-width="1.2" />
<line x1="537.9" y1="135.55" x2="543.5" y2="135.55" stroke="#2a2a2a" stroke-width="1.2" />
<line x1="537.9" y1="130.37" x2="543.5" y2="130.37" stroke="#2a2a2a" stroke-width="1.2" />
<line x1="537.9" y1="125.8" x2="543.5" y2="125.8" stroke="#2a2a2a" stroke-width="1.2" />
<line x1="532" y1="121.72" x2="543.5" y2="121.72" stroke="#2a2a2a" stroke-width="1.2" />
<line x1="537.9" y1="94.83" x2="543.5" y2="94.83" stroke="#2a2a2a" stroke-width="1.2" />
<line x1="537.9" y1="79.1" x2="543.5" y2="79.1" stroke="#2a2a2a" stroke-width="1.2" />
<line x1="537.9" y1="67.94" x2="543.5" y2="67.94" stroke="#2a2a2a" stroke-width="1.2" />
<line x1="537.9" y1="59.29" x2="543.5" y2="59.29" stroke="#2a2a2a" stroke-width="1.2" />
<line x1="537.9" y1="52.21" x2="543.5" y2="52.21" stroke="#2a2a2a" stroke-width="1.2" />
<line x1="537.9" y1="46.24" x2="543.5" y2="46.24" stroke="#2a2a2a" stroke-width="1.2" />
<line x1="537.9" y1="41.06" x2="543.5" y2="41.06" stroke="#2a2a2a" stroke-width="1.2" />
<line x1="537.9" y1="36.49" x2="543.5" y2="36.49" stroke="#2a2a2a" stroke-width="1.2" />
<line x1="532" y1="32.4" x2="543.5" y2="32.4" stroke="#2a2a2a" stroke-width="1.2" />
<text x="525.2" y="39.4" font-size="25.6" text-anchor="end" fill="#000" stroke="#000" >1</text>
<text x="525.2" y="128.72" font-size="25.6" text-anchor="end" fill="#000" stroke="#000" textLength="31.04" lengthAdjust="spacingAndGlyphs" >0.1</text>
<text x="525.2" y="218.03" font-size="25.6" text-anchor="end" fill="#000" stroke="#000" textLength="42.78" lengthAdjust="spacingAndGlyphs" >0.01</text>
<text x="525.2" y="307.35" font-size="25.6" text-anchor="end" fill="#000" stroke="#000" textLength="49.02" lengthAdjust="spacingAndGlyphs" >1E-3</text>
<text x="543.5" y="335.3" font-size="25.6" text-anchor="middle" fill="#000" stroke="#000" textLength="42.78" lengthAdjust="spacingAndGlyphs" >0.01</text>
<text x="615.79" y="335.3" font-size="25.6" text-anchor="middle" fill="#000" stroke="#000" textLength="31.04" lengthAdjust="spacingAndGlyphs" >0.1</text>
<text x="688.08" y="335.3" font-size="25.6" text-anchor="middle" fill="#000" stroke="#000" >1</text>
<text x="760.37" y="335.3" font-size="25.6" text-anchor="middle" fill="#000" stroke="#000" >10</text>
<text x="832.66" y="335.3" font-size="25.6" text-anchor="middle" fill="#000" stroke="#000" textLength="36.86" lengthAdjust="spacingAndGlyphs" >100</text>
<text transform="translate(434.28,29.2) scale(0.6647,1.0000)" font-size="42.6" fill="#000" stroke="#000">(</text>
<text transform="translate(449.5,29.2) scale(0.9692,1.0000)" font-size="38.5" fill="#000" stroke="#000">b</text>
<text transform="translate(467.08,29.2) scale(0.9196,1.0000)" font-size="42.6" fill="#000" stroke="#000">)</text>
<text transform="translate(601.48,375.1) scale(1.0393,1.0000)" font-size="25.5" fill="#000" stroke="#000">Pulse width</text>
<text transform="translate(736.33,375.1) scale(0.7186,1.0000)" font-size="27.5" fill="#000" stroke="#000">[</text>
<text transform="translate(742.69,375.1) scale(0.8645,1.0000)" font-size="25.5" fill="#000" stroke="#000" font-weight="bold">γT</text>
<text transform="translate(767.73,375.1) scale(0.5879,1.0000)" font-size="27.5" fill="#000" stroke="#000">]</text>
<text transform="translate(456.4,192.29) rotate(-90) scale(1.1302,1.0000)" font-size="25.5" fill="#0000ff" stroke="#0000ff" font-style="italic">P</text>
<text transform="translate(465.7,181.4) rotate(-90) scale(2.0396,1.0000)" font-size="12" fill="#0000ff" stroke="#0000ff">1</text>
<text transform="translate(456.4,168.84) rotate(-90) scale(0.8454,1.0000)" font-size="25.5" fill="#000" stroke="#000">,</text>
<text transform="translate(456.4,155.18) rotate(-90) scale(1.1701,1.0000)" font-size="25.5" fill="#ff0000" stroke="#ff0000" font-style="italic">P</text>
<text transform="translate(465.7,140.57) rotate(-90) scale(1.4913,1.0000)" font-size="12" fill="#ff0000" stroke="#ff0000">2</text>
</g>
<g id="panel-c">
<clipPath id="clipc"><rect x="989.45" y="32.4" width="288.75" height="267.95"/></clipPath>
<g clip-path="url(#clipc)" fill="none" stroke-width="1.9" stroke-linejoin="round">
<path d="M989.45 265.1 L991.25 262.88 L993.06 260.67 L994.86 258.45 L996.67 256.24 L998.47 254.03 L1000.28 251.82 L1002.08 249.61 L1003.89 247.4 L1005.69 245.2 L1007.5 242.99 L1009.3 240.79 L1011.11 238.59 L1012.91 236.39 L1014.72 234.19 L1016.52 232 L1018.33 229.8 L1020.13 227.61 L1021.94 225.42 L1023.74 223.24 L1025.55 221.05 L1027.35 218.87 L1029.15 216.7 L1030.96 214.52 L1032.76 212.35 L1034.57 210.18 L1036.37 208.02 L1038.18 205.86 L1039.98 203.71 L1041.79 201.56 L1043.59 199.41 L1045.4 197.27 L1047.2 195.13 L1049.01 193 L1050.81 190.87 L1052.62 188.75 L1054.42 186.64 L1056.23 184.53 L1058.03 182.43 L1059.84 180.34 L1061.64 178.25 L1063.44 176.18 L1065.25 174.11 L1067.05 172.05 L1068.86 169.99 L1070.66 167.95 L1072.47 165.92 L1074.27 163.89 L1076.08 161.88 L1077.88 159.88 L1079.69 157.89 L1081.49 155.91 L1083.3 153.94 L1085.1 151.99 L1086.91 150.05 L1088.71 148.12 L1090.52 146.21 L1092.32 144.3 L1094.13 142.42 L1095.93 140.55 L1097.74 138.69 L1099.54 136.85 L1101.34 135.02 L1103.15 133.21 L1104.95 131.42 L1106.76 129.64 L1108.56 127.87 L1110.37 126.12 L1112.17 124.39 L1113.98 122.67 L1115.78 120.96 L1117.59 119.27 L1119.39 117.59 L1121.2 115.92 L1123 114.26 L1124.81 112.61 L1126.61 110.97 L1128.42 109.34 L1130.22 107.7 L1132.03 106.08 L1133.83 104.44 L1135.63 102.81 L1137.44 101.17 L1139.24 99.52 L1141.05 97.86 L1142.85 96.17 L1144.66 94.47 L1146.46 92.74 L1148.27 90.98 L1150.07 89.18 L1151.88 87.34 L1153.68 85.44 L1155.49 83.49 L1157.29 81.47 L1159.1 79.39 L1160.9 77.22 L1162.71 74.96 L1164.51 72.59 L1166.32 70.12 L1168.12 67.53 L1169.92 64.8 L1171.73 61.93 L1173.53 58.9 L1175.34 55.69 L1177.14 52.3 L1178.95 48.7 L1180.75 44.88 L1182.56 40.83 L1184.36 36.52 L1186.17 31.94 L1187.97 27.06 L1189.78 21.86 L1191.58 16.32 L1193.39 10.42 L1195.19 4.13 L1197 -2.57 L1198.8 -9.73 L1200.61 -17.35 L1202.41 -25.49 L1204.22 -34.16 L1206.02 -43.41 L1207.82 -53.27 L1209.63 -63.78 L1211.43 -74.98 L1213.24 -86.93" stroke="#008000"/>
<path d="M989.45 265.01 L991.25 262.79 L993.06 260.57 L994.86 258.35 L996.67 256.13 L998.47 253.91 L1000.28 251.7 L1002.08 249.48 L1003.89 247.27 L1005.69 245.05 L1007.5 242.84 L1009.3 240.63 L1011.11 238.42 L1012.91 236.21 L1014.72 234 L1016.52 231.79 L1018.33 229.59 L1020.13 227.39 L1021.94 225.19 L1023.74 222.99 L1025.55 220.79 L1027.35 218.59 L1029.15 216.4 L1030.96 214.21 L1032.76 212.02 L1034.57 209.84 L1036.37 207.65 L1038.18 205.47 L1039.98 203.3 L1041.79 201.12 L1043.59 198.95 L1045.4 196.78 L1047.2 194.62 L1049.01 192.46 L1050.81 190.31 L1052.62 188.16 L1054.42 186.01 L1056.23 183.87 L1058.03 181.73 L1059.84 179.6 L1061.64 177.48 L1063.44 175.36 L1065.25 173.25 L1067.05 171.14 L1068.86 169.04 L1070.66 166.95 L1072.47 164.87 L1074.27 162.79 L1076.08 160.73 L1077.88 158.67 L1079.69 156.62 L1081.49 154.58 L1083.3 152.56 L1085.1 150.54 L1086.91 148.53 L1088.71 146.54 L1090.52 144.56 L1092.32 142.59 L1094.13 140.64 L1095.93 138.7 L1097.74 136.77 L1099.54 134.86 L1101.34 132.96 L1103.15 131.08 L1104.95 129.22 L1106.76 127.38 L1108.56 125.55 L1110.37 123.75 L1112.17 121.96 L1113.98 120.19 L1115.78 118.44 L1117.59 116.71 L1119.39 115.01 L1121.2 113.33 L1123 111.66 L1124.81 110.03 L1126.61 108.41 L1128.42 106.82 L1130.22 105.25 L1132.03 103.7 L1133.83 102.18 L1135.63 100.69 L1137.44 99.21 L1139.24 97.76 L1141.05 96.34 L1142.85 94.94 L1144.66 93.56 L1146.46 92.2 L1148.27 90.86 L1150.07 89.55 L1151.88 88.26 L1153.68 86.98 L1155.49 85.73 L1157.29 84.49 L1159.1 83.27 L1160.9 82.07 L1162.71 80.88 L1164.51 79.7 L1166.32 78.54 L1168.12 77.39 L1169.92 76.25 L1171.73 75.11 L1173.53 73.99 L1175.34 72.87 L1177.14 71.75 L1178.95 70.65 L1180.75 69.54 L1182.56 68.44 L1184.36 67.34 L1186.17 66.25 L1187.97 65.16 L1189.78 64.07 L1191.58 62.99 L1193.39 61.91 L1195.19 60.84 L1197 59.78 L1198.8 58.72 L1200.61 57.68 L1202.41 56.65 L1204.22 55.63 L1206.02 54.63 L1207.82 53.64 L1209.63 52.68 L1211.43 51.73 L1213.24 50.81 L1215.04 49.92 L1216.85 49.05 L1218.65 48.21 L1220.46 47.4 L1222.26 46.62 L1224.07 45.88 L1225.87 45.16 L1227.68 44.47 L1229.48 43.81 L1231.29 43.19 L1233.09 42.59 L1234.9 42.03 L1236.7 41.49 L1238.51 40.98 L1240.31 40.5 L1242.12 40.04 L1243.92 39.61 L1245.72 39.2 L1247.53 38.81 L1249.33 38.45 L1251.14 38.11 L1252.94 37.78 L1254.75 37.47 L1256.55 37.18 L1258.36 36.91 L1260.16 36.65 L1261.97 36.41 L1263.77 36.18 L1265.58 35.97 L1267.38 35.77 L1269.19 35.57 L1270.99 35.39 L1272.8 35.22 L1274.6 35.06 L1276.41 34.91 L1278.21 34.77" stroke="#000"/>
</g>
<rect x="989.45" y="32.4" width="288.75" height="267.95" fill="none" stroke="#2a2a2a" stroke-width="1.2"/>
<line x1="989.45" y1="300.35" x2="989.45" y2="311.35" stroke="#2a2a2a" stroke-width="1.2" />
<line x1="1011.18" y1="300.35" x2="1011.18" y2="305.95" stroke="#2a2a2a" stroke-width="1.2" />
<line x1="1023.89" y1="300.35" x2="1023.89" y2="305.95" stroke="#2a2a2a" stroke-width="1.2" />
<line x1="1032.91" y1="300.35" x2="1032.91" y2="305.95" stroke="#2a2a2a" stroke-width="1.2" />
<line x1="1039.91" y1="300.35" x2="1039.91" y2="305.95" stroke="#2a2a2a" stroke-width="1.2" />
<line x1="1045.62" y1="300.35" x2="1045.62" y2="305.95" stroke="#2a2a2a" stroke-width="1.2" />
<line x1="1050.46" y1="300.35" x2="1050.46" y2="305.95" stroke="#2a2a2a" stroke-width="1.2" />
<line x1="1054.64" y1="300.35" x2="1054.64" y2="305.95" stroke="#2a2a2a" stroke-width="1.2" />
<line x1="1058.34" y1="300.35" x2="1058.34" y2="305.95" stroke="#2a2a2a" stroke-width="1.2" />
<line x1="1061.64" y1="300.35" x2="1061.64" y2="311.35" stroke="#2a2a2a" stroke-width="1.2" />
<line x1="1083.37" y1="300.35" x2="1083.37" y2="305.95" stroke="#2a2a2a" stroke-width="1.2" />
<line x1="1096.08" y1="300.35" x2="1096.08" y2="305.95" stroke="#2a2a2a" stroke-width="1.2" />
<line x1="1105.1" y1="300.35" x2="1105.1" y2="305.95" stroke="#2a2a2a" stroke-width="1.2" />
<line x1="1112.1" y1="300.35" x2="1112.1" y2="305.95" stroke="#2a2a2a" stroke-width="1.2" />
<line x1="1117.81" y1="300.35" x2="1117.81" y2="305.95" stroke="#2a2a2a" stroke-width="1.2" />
<line x1="1122.65" y1="300.35" x2="1122.65" y2="305.95" stroke="#2a2a2a" stroke-width="1.2" />
<line x1="1126.83" y1="300.35" x2="1126.83" y2="305.95" stroke="#2a2a2a" stroke-width="1.2" />
<line x1="1130.53" y1="300.35" x2="1130.53" y2="305.95" stroke="#2a2a2a" stroke-width="1.2" />
<line x1="1133.83" y1="300.35" x2="1133.83" y2="311.35" stroke="#2a2a2a" stroke-width="1.2" />
<line x1="1155.56" y1="300.35" x2="1155.56" y2="305.95" stroke="#2a2a2a" stroke-width="1.2" />
<line x1="1168.27" y1="300.35" x2="1168.27" y2="305.95" stroke="#2a2a2a" stroke-width="1.2" />
<line x1="1177.29" y1="300.35" x2="1177.29" y2="305.95" stroke="#2a2a2a" stroke-width="1.2" />
<line x1="1184.29" y1="300.35" x2="1184.29" y2="305.95" stroke="#2a2a2a" stroke-width="1.2" />
<line x1="1190" y1="300.35" x2="1190" y2="305.95" stroke="#2a2a2a" stroke-width="1.2" />
<line x1="1194.84" y1="300.35" x2="1194.84" y2="305.95" stroke="#2a2a2a" stroke-width="1.2" />
<line x1="1199.02" y1="300.35" x2="1199.02" y2="305.95" stroke="#2a2a2a" stroke-width="1.2" />
<line x1="1202.72" y1="300.35" x2="1202.72" y2="305.95" stroke="#2a2a2a" stroke-width="1.2" />
<line x1="1206.02" y1="300.35" x2="1206.02" y2="311.35" stroke="#2a2a2a" stroke-width="1.2" />
<line x1="1227.75" y1="300.35" x2="1227.75" y2="305.95" stroke="#2a2a2a" stroke-width="1.2" />
<line x1="1240.46" y1="300.35" x2="1240.46" y2="305.95" stroke="#2a2a2a" stroke-width="1.2" />
<line x1="1249.48" y1="300.35" x2="1249.48" y2="305.95" stroke="#2a2a2a" stroke-width="1.2" />
<line x1="1256.48" y1="300.35" x2="1256.48" y2="305.95" stroke="#2a2a2a" stroke-width="1.2" />
<line x1="1262.19" y1="300.35" x2="1262.19" y2="305.95" stroke="#2a2a2a" stroke-width="1.2" />
<line x1="1267.03" y1="300.35" x2="1267.03" y2="305.95" stroke="#2a2a2a" stroke-width="1.2" />
<line x1="1271.21" y1="300.35" x2="1271.21" y2="305.95" stroke="#2a2a2a" stroke-width="1.2" />
<line x1="1274.91" y1="300.35" x2="1274.91" y2="305.95" stroke="#2a2a2a" stroke-width="1.2" />
<line x1="1278.21" y1="300.35" x2="1278.21" y2="311.35" stroke="#2a2a2a" stroke-width="1.2" />
<line x1="977.95" y1="300.35" x2="989.45" y2="300.35" stroke="#2a2a2a" stroke-width="1.2" />
<line x1="983.85" y1="273.46" x2="989.45" y2="273.46" stroke="#2a2a2a" stroke-width="1.2" />
<line x1="983.85" y1="257.74" x2="989.45" y2="257.74" stroke="#2a2a2a" stroke-width="1.2" />
<line x1="983.85" y1="246.58" x2="989.45" y2="246.58" stroke="#2a2a2a" stroke-width="1.2" />
<line x1="983.85" y1="237.92" x2="989.45" y2="237.92" stroke="#2a2a2a" stroke-width="1.2" />
<line x1="983.85" y1="230.85" x2="989.45" y2="230.85" stroke="#2a2a2a" stroke-width="1.2" />
<line x1="983.85" y1="224.87" x2="989.45" y2="224.87" stroke="#2a2a2a" stroke-width="1.2" />
<line x1="983.85" y1="219.69" x2="989.45" y2="219.69" stroke="#2a2a2a" stroke-width="1.2" />
<line x1="983.85" y1="215.12" x2="989.45" y2="215.12" stroke="#2a2a2a" stroke-width="1.2" />
<line x1="977.95" y1="211.03" x2="989.45" y2="211.03" stroke="#2a2a2a" stroke-width="1.2" />
<line x1="983.85" y1="184.15" x2="989.45" y2="184.15" stroke="#2a2a2a" stroke-width="1.2" />
<line x1="983.85" y1="168.42" x2="989.45" y2="168.42" stroke="#2a2a2a" stroke-width="1.2" />
<line x1="983.85" y1="157.26" x2="989.45" y2="157.26" stroke="#2a2a2a" stroke-width="1.2" />
<line x1="983.85" y1="148.6" x2="989.45" y2="148.6" stroke="#2a2a2a" stroke-width="1.2" />
<line x1="983.85" y1="141.53" x2="989.45" y2="141.53" stroke="#2a2a2a" stroke-width="1.2" />
<line x1="983.85" y1="135.55" x2="989.45" y2="135.55" stroke="#2a2a2a" stroke-width="1.2" />
<line x1="983.85" y1="130.37" x2="989.45" y2="130.37" stroke="#2a2a2a" stroke-width="1.2" />
<line x1="983.85" y1="125.8" x2="989.45" y2="125.8" stroke="#2a2a2a" stroke-width="1.2" />
<line x1="977.95" y1="121.72" x2="989.45" y2="121.72" stroke="#2a2a2a" stroke-width="1.2" />
<line x1="983.85" y1="94.83" x2="989.45" y2="94.83" stroke="#2a2a2a" stroke-width="1.2" />
<line x1="983.85" y1="79.1" x2="989.45" y2="79.1" stroke="#2a2a2a" stroke-width="1.2" />
<line x1="983.85" y1="67.94" x2="989.45" y2="67.94" stroke="#2a2a2a" stroke-width="1.2" />
<line x1="983.85" y1="59.29" x2="989.45" y2="59.29" stroke="#2a2a2a" stroke-width="1.2" />
<line x1="983.85" y1="52.21" x2="989.45" y2="52.21" stroke="#2a2a2a" stroke-width="1.2" />
<line x1="983.85" y1="46.24" x2="989.45" y2="46.24" stroke="#2a2a2a" stroke-width="1.2" />
<line x1="983.85" y1="41.06" x2="989.45" y2="41.06" stroke="#2a2a2a" stroke-width="1.2" />
<line x1="983.85" y1="36.49" x2="989.45" y2="36.49" stroke="#2a2a2a" stroke-width="1.2" />
<line x1="977.95" y1="32.4" x2="989.45" y2="32.4" stroke="#2a2a2a" stroke-width="1.2" />
<text x="971.15" y="39.4" font-size="25.6" text-anchor="end" fill="#000" stroke="#000" >1</text>
<text x="971.15" y="128.72" font-size="25.6" text-anchor="end" fill="#000" stroke="#000" textLength="31.04" lengthAdjust="spacingAndGlyphs" >0.1</text>
<text x="971.15" y="218.03" font-size="25.6" text-anchor="end" fill="#000" stroke="#000" textLength="42.78" lengthAdjust="spacingAndGlyphs" >0.01</text>
<text x="971.15" y="307.35" font-size="25.6" text-anchor="end" fill="#000" stroke="#000" textLength="49.02" lengthAdjust="spacingAndGlyphs" >1E-3</text>
<text x="989.45" y="335.3" font-size="25.6" text-anchor="middle" fill="#000" stroke="#000" textLength="42.78" lengthAdjust="spacingAndGlyphs" >0.01</text>
<text x="1061.64" y="335.3" font-size="25.6" text-anchor="middle" fill="#000" stroke="#000" textLength="31.04" lengthAdjust="spacingAndGlyphs" >0.1</text>
<text x="1133.83" y="335.3" font-size="25.6" text-anchor="middle" fill="#000" stroke="#000" >1</text>
<text x="1206.02" y="335.3" font-size="25.6" text-anchor="middle" fill="#000" stroke="#000" >10</text>
<text x="1278.21" y="335.3" font-size="25.6" text-anchor="middle" fill="#000" stroke="#000" textLength="36.86" lengthAdjust="spacingAndGlyphs" >100</text>
<text transform="translate(881.42,29.2) scale(0.7557,1.0000)" font-size="42.6" fill="#000" stroke="#000">(</text>
<text transform="translate(893.46,29.2) scale(0.9867,1.0000)" font-size="40" fill="#000" stroke="#000">c</text>
<text transform="translate(910.64,29.2) scale(0.9469,1.0000)" font-size="42.6" fill="#000" stroke="#000">)</text>
<text transform="translate(1047.78,375.1) scale(1.0393,1.0000)" font-size="25.5" fill="#000" stroke="#000">Pulse width</text>
<text transform="translate(1182.63,375.1) scale(0.7186,1.0000)" font-size="27.5" fill="#000" stroke="#000">[</text>
<text transform="translate(1188.99,375.1) scale(0.8645,1.0000)" font-size="25.5" fill="#000" stroke="#000" font-weight="bold">γT</text>
<text transform="translate(1214.03,375.1) scale(0.5879,1.0000)" font-size="27.5" fill="#000" stroke="#000">]</text>
<text transform="translate(907.7,190.8) rotate(-90) scale(1.1378,1.0000)" font-size="25.5" fill="#000" stroke="#000" font-style="italic">g</text>
<text transform="translate(891.4,180.72) rotate(-90) scale(1.3070,0.9042)" font-size="11" fill="#000" stroke="#000">(2)</text>
<text transform="translate(907.7,160.6) rotate(-90) scale(0.6505,1.0000)" font-size="29" fill="#000" stroke="#000">[</text>
<text transform="translate(908,155.69) rotate(-90) scale(1.3644,1.0000)" font-size="20.5" fill="#000" stroke="#000">0</text>
<text transform="translate(907.7,143.06) rotate(-90) scale(0.6505,1.0000)" font-size="29" fill="#000" stroke="#000">]</text>
</g>
<g id="panel-d">
<clipPath id="clipd"><rect x="1435.9" y="32.4" width="288.6" height="267.95"/></clipPath>
<g clip-path="url(#clipd)" stroke="#000" stroke-width="1.7" fill="#000">
<line x1="1440.4" y1="207.1" x2="1440.4" y2="248.6" stroke="#000" stroke-width="1.6" />
<line x1="1432.6" y1="207.1" x2="1448.2" y2="207.1" stroke="#000" stroke-width="1.6" />
<line x1="1432.6" y1="248.6" x2="1448.2" y2="248.6" stroke="#000" stroke-width="1.6" />
<line x1="1437.1" y1="222.4" x2="1443.9" y2="222.4" stroke="#000" stroke-width="1.6" />
<line x1="1437.1" y1="214.6" x2="1437.1" y2="230.2" stroke="#000" stroke-width="1.6" />
<line x1="1443.9" y1="214.6" x2="1443.9" y2="230.2" stroke="#000" stroke-width="1.6" />
<circle cx="1440.4" cy="222.4" r="3.7" stroke="none"/>
<line x1="1454.1" y1="230.9" x2="1454.1" y2="320" stroke="#000" stroke-width="1.6" />
<line x1="1446.3" y1="230.9" x2="1461.9" y2="230.9" stroke="#000" stroke-width="1.6" />
<line x1="1446.3" y1="320" x2="1461.9" y2="320" stroke="#000" stroke-width="1.6" />
<line x1="1450.6" y1="261" x2="1457.6" y2="261" stroke="#000" stroke-width="1.6" />
<line x1="1450.6" y1="253.2" x2="1450.6" y2="268.8" stroke="#000" stroke-width="1.6" />
<line x1="1457.6" y1="253.2" x2="1457.6" y2="268.8" stroke="#000" stroke-width="1.6" />
<circle cx="1454.1" cy="261" r="3.7" stroke="none"/>
<line x1="1476.6" y1="187.3" x2="1476.6" y2="201.3" stroke="#000" stroke-width="1.6" />
<line x1="1468.8" y1="187.3" x2="1484.4" y2="187.3" stroke="#000" stroke-width="1.6" />
<line x1="1468.8" y1="201.3" x2="1484.4" y2="201.3" stroke="#000" stroke-width="1.6" />
<line x1="1473.2" y1="193.8" x2="1480.3" y2="193.8" stroke="#000" stroke-width="1.6" />
<line x1="1473.2" y1="186" x2="1473.2" y2="201.6" stroke="#000" stroke-width="1.6" />
<line x1="1480.3" y1="186" x2="1480.3" y2="201.6" stroke="#000" stroke-width="1.6" />
<circle cx="1476.6" cy="193.8" r="3.7" stroke="none"/>
<line x1="1494.2" y1="161.4" x2="1494.2" y2="167.2" stroke="#000" stroke-width="1.6" />
<line x1="1486.4" y1="161.4" x2="1502" y2="161.4" stroke="#000" stroke-width="1.6" />
<line x1="1486.4" y1="167.2" x2="1502" y2="167.2" stroke="#000" stroke-width="1.6" />
<line x1="1482.2" y1="164.3" x2="1497.8" y2="164.3" stroke="#000" stroke-width="1.6" />
<line x1="1497.8" y1="156.5" x2="1497.8" y2="172.1" stroke="#000" stroke-width="1.6" />
<circle cx="1494.2" cy="164.3" r="3.7" stroke="none"/>
<line x1="1535.9" y1="141.1" x2="1535.9" y2="145.5" stroke="#000" stroke-width="1.6" />
<line x1="1528.1" y1="141.1" x2="1543.7" y2="141.1" stroke="#000" stroke-width="1.6" />
<line x1="1528.1" y1="145.5" x2="1543.7" y2="145.5" stroke="#000" stroke-width="1.6" />
<line x1="1532.2" y1="143.3" x2="1539.6" y2="143.3" stroke="#000" stroke-width="1.6" />
<line x1="1532.2" y1="135.5" x2="1532.2" y2="151.1" stroke="#000" stroke-width="1.6" />
<line x1="1539.6" y1="135.5" x2="1539.6" y2="151.1" stroke="#000" stroke-width="1.6" />
<circle cx="1535.9" cy="143.3" r="3.7" stroke="none"/>
<line x1="1543" y1="132.7" x2="1543" y2="137.3" stroke="#000" stroke-width="1.6" />
<line x1="1535.2" y1="132.7" x2="1550.8" y2="132.7" stroke="#000" stroke-width="1.6" />
<line x1="1535.2" y1="137.3" x2="1550.8" y2="137.3" stroke="#000" stroke-width="1.6" />
<line x1="1539.6" y1="135" x2="1546.4" y2="135" stroke="#000" stroke-width="1.6" />
<line x1="1539.6" y1="127.2" x2="1539.6" y2="142.8" stroke="#000" stroke-width="1.6" />
<line x1="1546.4" y1="127.2" x2="1546.4" y2="142.8" stroke="#000" stroke-width="1.6" />
<circle cx="1543" cy="135" r="3.7" stroke="none"/>
<line x1="1566.7" y1="115" x2="1566.7" y2="117.8" stroke="#000" stroke-width="1.6" />
<line x1="1558.9" y1="115" x2="1574.5" y2="115" stroke="#000" stroke-width="1.6" />
<line x1="1558.9" y1="117.8" x2="1574.5" y2="117.8" stroke="#000" stroke-width="1.6" />
<line x1="1563.6" y1="116.4" x2="1569.8" y2="116.4" stroke="#000" stroke-width="1.6" />
<line x1="1563.6" y1="108.6" x2="1563.6" y2="124.2" stroke="#000" stroke-width="1.6" />
<line x1="1569.8" y1="108.6" x2="1569.8" y2="124.2" stroke="#000" stroke-width="1.6" />
<circle cx="1566.7" cy="116.4" r="3.7" stroke="none"/>
<line x1="1590.2" y1="98.45" x2="1590.2" y2="100.95" stroke="#000" stroke-width="1.6" />
<line x1="1582.4" y1="98.45" x2="1598" y2="98.45" stroke="#000" stroke-width="1.6" />
<line x1="1582.4" y1="100.95" x2="1598" y2="100.95" stroke="#000" stroke-width="1.6" />
<line x1="1587.1" y1="99.7" x2="1593.3" y2="99.7" stroke="#000" stroke-width="1.6" />
<line x1="1587.1" y1="91.9" x2="1587.1" y2="107.5" stroke="#000" stroke-width="1.6" />
<line x1="1593.3" y1="91.9" x2="1593.3" y2="107.5" stroke="#000" stroke-width="1.6" />
<circle cx="1590.2" cy="99.7" r="3.7" stroke="none"/>
<line x1="1609.2" y1="83.3" x2="1609.2" y2="85.7" stroke="#000" stroke-width="1.6" />
<line x1="1601.4" y1="83.3" x2="1617" y2="83.3" stroke="#000" stroke-width="1.6" />
<line x1="1601.4" y1="85.7" x2="1617" y2="85.7" stroke="#000" stroke-width="1.6" />
<line x1="1606.9" y1="84.5" x2="1611.5" y2="84.5" stroke="#000" stroke-width="1.6" />
<line x1="1606.9" y1="76.7" x2="1606.9" y2="92.3" stroke="#000" stroke-width="1.6" />
<line x1="1611.5" y1="76.7" x2="1611.5" y2="92.3" stroke="#000" stroke-width="1.6" />
<circle cx="1609.2" cy="84.5" r="3.7" stroke="none"/>
<line x1="1621.4" y1="76.6" x2="1621.4" y2="79" stroke="#000" stroke-width="1.6" />
<line x1="1613.6" y1="76.6" x2="1629.2" y2="76.6" stroke="#000" stroke-width="1.6" />
<line x1="1613.6" y1="79" x2="1629.2" y2="79" stroke="#000" stroke-width="1.6" />
<line x1="1619.4" y1="77.8" x2="1623.4" y2="77.8" stroke="#000" stroke-width="1.6" />
<line x1="1619.4" y1="70" x2="1619.4" y2="85.6" stroke="#000" stroke-width="1.6" />
<line x1="1623.4" y1="70" x2="1623.4" y2="85.6" stroke="#000" stroke-width="1.6" />
<circle cx="1621.4" cy="77.8" r="3.7" stroke="none"/>
<line x1="1644.8" y1="70.1" x2="1644.8" y2="71.5" stroke="#000" stroke-width="1.6" />
<line x1="1637" y1="70.1" x2="1652.6" y2="70.1" stroke="#000" stroke-width="1.6" />
<line x1="1637" y1="71.5" x2="1652.6" y2="71.5" stroke="#000" stroke-width="1.6" />
<line x1="1644.1" y1="70.8" x2="1645.5" y2="70.8" stroke="#000" stroke-width="1.6" />
<line x1="1644.1" y1="63" x2="1644.1" y2="78.6" stroke="#000" stroke-width="1.6" />
<line x1="1645.5" y1="63" x2="1645.5" y2="78.6" stroke="#000" stroke-width="1.6" />
<circle cx="1644.8" cy="70.8" r="3.7" stroke="none"/>
<line x1="1668.3" y1="62.2" x2="1668.3" y2="63.2" stroke="#000" stroke-width="1.6" />
<line x1="1660.5" y1="62.2" x2="1676.1" y2="62.2" stroke="#000" stroke-width="1.6" />
<line x1="1660.5" y1="63.2" x2="1676.1" y2="63.2" stroke="#000" stroke-width="1.6" />
<line x1="1667.8" y1="62.7" x2="1668.8" y2="62.7" stroke="#000" stroke-width="1.6" />
<line x1="1667.8" y1="54.9" x2="1667.8" y2="70.5" stroke="#000" stroke-width="1.6" />
<line x1="1668.8" y1="54.9" x2="1668.8" y2="70.5" stroke="#000" stroke-width="1.6" />
<circle cx="1668.3" cy="62.7" r="3.7" stroke="none"/>
<line x1="1687.3" y1="58.45" x2="1687.3" y2="59.05" stroke="#000" stroke-width="1.6" />
<line x1="1679.5" y1="58.45" x2="1695.1" y2="58.45" stroke="#000" stroke-width="1.6" />
<line x1="1679.5" y1="59.05" x2="1695.1" y2="59.05" stroke="#000" stroke-width="1.6" />
<line x1="1687" y1="58.75" x2="1687.6" y2="58.75" stroke="#000" stroke-width="1.6" />
<line x1="1687" y1="50.95" x2="1687" y2="66.55" stroke="#000" stroke-width="1.6" />
<line x1="1687.6" y1="50.95" x2="1687.6" y2="66.55" stroke="#000" stroke-width="1.6" />
<circle cx="1687.3" cy="58.75" r="3.7" stroke="none"/>
<line x1="1705.6" y1="58.8" x2="1705.6" y2="59.4" stroke="#000" stroke-width="1.6" />
<line x1="1697.8" y1="58.8" x2="1713.4" y2="58.8" stroke="#000" stroke-width="1.6" />
<line x1="1697.8" y1="59.4" x2="1713.4" y2="59.4" stroke="#000" stroke-width="1.6" />
<line x1="1705.3" y1="59.1" x2="1705.9" y2="59.1" stroke="#000" stroke-width="1.6" />
<line x1="1705.3" y1="51.3" x2="1705.3" y2="66.9" stroke="#000" stroke-width="1.6" />
<line x1="1705.9" y1="51.3" x2="1705.9" y2="66.9" stroke="#000" stroke-width="1.6" />
<circle cx="1705.6" cy="59.1" r="3.7" stroke="none"/>
</g>
<rect x="1435.9" y="32.4" width="288.6" height="267.95" fill="none" stroke="#2a2a2a" stroke-width="1.2"/>
<line x1="1435.9" y1="300.35" x2="1435.9" y2="311.35" stroke="#2a2a2a" stroke-width="1.2" />
<line x1="1459.4" y1="300.35" x2="1459.4" y2="305.95" stroke="#2a2a2a" stroke-width="1.2" />
<line x1="1473.15" y1="300.35" x2="1473.15" y2="305.95" stroke="#2a2a2a" stroke-width="1.2" />
<line x1="1482.9" y1="300.35" x2="1482.9" y2="305.95" stroke="#2a2a2a" stroke-width="1.2" />
<line x1="1490.47" y1="300.35" x2="1490.47" y2="305.95" stroke="#2a2a2a" stroke-width="1.2" />
<line x1="1496.65" y1="300.35" x2="1496.65" y2="305.95" stroke="#2a2a2a" stroke-width="1.2" />
<line x1="1501.88" y1="300.35" x2="1501.88" y2="305.95" stroke="#2a2a2a" stroke-width="1.2" />
<line x1="1506.4" y1="300.35" x2="1506.4" y2="305.95" stroke="#2a2a2a" stroke-width="1.2" />
<line x1="1510.4" y1="300.35" x2="1510.4" y2="305.95" stroke="#2a2a2a" stroke-width="1.2" />
<line x1="1513.97" y1="300.35" x2="1513.97" y2="311.35" stroke="#2a2a2a" stroke-width="1.2" />
<line x1="1537.47" y1="300.35" x2="1537.47" y2="305.95" stroke="#2a2a2a" stroke-width="1.2" />
<line x1="1551.22" y1="300.35" x2="1551.22" y2="305.95" stroke="#2a2a2a" stroke-width="1.2" />
<line x1="1560.97" y1="300.35" x2="1560.97" y2="305.95" stroke="#2a2a2a" stroke-width="1.2" />
<line x1="1568.54" y1="300.35" x2="1568.54" y2="305.95" stroke="#2a2a2a" stroke-width="1.2" />
<line x1="1574.72" y1="300.35" x2="1574.72" y2="305.95" stroke="#2a2a2a" stroke-width="1.2" />
<line x1="1579.95" y1="300.35" x2="1579.95" y2="305.95" stroke="#2a2a2a" stroke-width="1.2" />
<line x1="1584.47" y1="300.35" x2="1584.47" y2="305.95" stroke="#2a2a2a" stroke-width="1.2" />
<line x1="1588.47" y1="300.35" x2="1588.47" y2="305.95" stroke="#2a2a2a" stroke-width="1.2" />
<line x1="1592.04" y1="300.35" x2="1592.04" y2="311.35" stroke="#2a2a2a" stroke-width="1.2" />
<line x1="1615.54" y1="300.35" x2="1615.54" y2="305.95" stroke="#2a2a2a" stroke-width="1.2" />
<line x1="1629.29" y1="300.35" x2="1629.29" y2="305.95" stroke="#2a2a2a" stroke-width="1.2" />
<line x1="1639.04" y1="300.35" x2="1639.04" y2="305.95" stroke="#2a2a2a" stroke-width="1.2" />
<line x1="1646.61" y1="300.35" x2="1646.61" y2="305.95" stroke="#2a2a2a" stroke-width="1.2" />
<line x1="1652.79" y1="300.35" x2="1652.79" y2="305.95" stroke="#2a2a2a" stroke-width="1.2" />
<line x1="1658.02" y1="300.35" x2="1658.02" y2="305.95" stroke="#2a2a2a" stroke-width="1.2" />
<line x1="1662.54" y1="300.35" x2="1662.54" y2="305.95" stroke="#2a2a2a" stroke-width="1.2" />
<line x1="1666.54" y1="300.35" x2="1666.54" y2="305.95" stroke="#2a2a2a" stroke-width="1.2" />
<line x1="1670.11" y1="300.35" x2="1670.11" y2="311.35" stroke="#2a2a2a" stroke-width="1.2" />
<line x1="1693.61" y1="300.35" x2="1693.61" y2="305.95" stroke="#2a2a2a" stroke-width="1.2" />
<line x1="1707.36" y1="300.35" x2="1707.36" y2="305.95" stroke="#2a2a2a" stroke-width="1.2" />
<line x1="1717.11" y1="300.35" x2="1717.11" y2="305.95" stroke="#2a2a2a" stroke-width="1.2" />
<line x1="1724.68" y1="300.35" x2="1724.68" y2="305.95" stroke="#2a2a2a" stroke-width="1.2" />
<line x1="1430.3" y1="300.36" x2="1435.9" y2="300.36" stroke="#2a2a2a" stroke-width="1.2" />
<line x1="1430.3" y1="284.63" x2="1435.9" y2="284.63" stroke="#2a2a2a" stroke-width="1.2" />
<line x1="1430.3" y1="273.47" x2="1435.9" y2="273.47" stroke="#2a2a2a" stroke-width="1.2" />
<line x1="1430.3" y1="264.82" x2="1435.9" y2="264.82" stroke="#2a2a2a" stroke-width="1.2" />
<line x1="1430.3" y1="257.75" x2="1435.9" y2="257.75" stroke="#2a2a2a" stroke-width="1.2" />
<line x1="1430.3" y1="251.77" x2="1435.9" y2="251.77" stroke="#2a2a2a" stroke-width="1.2" />
<line x1="1430.3" y1="246.59" x2="1435.9" y2="246.59" stroke="#2a2a2a" stroke-width="1.2" />
<line x1="1430.3" y1="242.02" x2="1435.9" y2="242.02" stroke="#2a2a2a" stroke-width="1.2" />
<line x1="1424.4" y1="237.93" x2="1435.9" y2="237.93" stroke="#2a2a2a" stroke-width="1.2" />
<line x1="1430.3" y1="211.04" x2="1435.9" y2="211.04" stroke="#2a2a2a" stroke-width="1.2" />
<line x1="1430.3" y1="195.31" x2="1435.9" y2="195.31" stroke="#2a2a2a" stroke-width="1.2" />
<line x1="1430.3" y1="184.15" x2="1435.9" y2="184.15" stroke="#2a2a2a" stroke-width="1.2" />
<line x1="1430.3" y1="175.5" x2="1435.9" y2="175.5" stroke="#2a2a2a" stroke-width="1.2" />
<line x1="1430.3" y1="168.43" x2="1435.9" y2="168.43" stroke="#2a2a2a" stroke-width="1.2" />
<line x1="1430.3" y1="162.45" x2="1435.9" y2="162.45" stroke="#2a2a2a" stroke-width="1.2" />
<line x1="1430.3" y1="157.27" x2="1435.9" y2="157.27" stroke="#2a2a2a" stroke-width="1.2" />
<line x1="1430.3" y1="152.7" x2="1435.9" y2="152.7" stroke="#2a2a2a" stroke-width="1.2" />
<line x1="1424.4" y1="148.61" x2="1435.9" y2="148.61" stroke="#2a2a2a" stroke-width="1.2" />
<line x1="1430.3" y1="121.72" x2="1435.9" y2="121.72" stroke="#2a2a2a" stroke-width="1.2" />
<line x1="1430.3" y1="105.99" x2="1435.9" y2="105.99" stroke="#2a2a2a" stroke-width="1.2" />
<line x1="1430.3" y1="94.83" x2="1435.9" y2="94.83" stroke="#2a2a2a" stroke-width="1.2" />
<line x1="1430.3" y1="86.18" x2="1435.9" y2="86.18" stroke="#2a2a2a" stroke-width="1.2" />
<line x1="1430.3" y1="79.11" x2="1435.9" y2="79.11" stroke="#2a2a2a" stroke-width="1.2" />
<line x1="1430.3" y1="73.13" x2="1435.9" y2="73.13" stroke="#2a2a2a" stroke-width="1.2" />
<line x1="1430.3" y1="67.95" x2="1435.9" y2="67.95" stroke="#2a2a2a" stroke-width="1.2" />
<line x1="1430.3" y1="63.38" x2="1435.9" y2="63.38" stroke="#2a2a2a" stroke-width="1.2" />
<line x1="1424.4" y1="59.29" x2="1435.9" y2="59.29" stroke="#2a2a2a" stroke-width="1.2" />
<line x1="1430.3" y1="32.4" x2="1435.9" y2="32.4" stroke="#2a2a2a" stroke-width="1.2" />
<text x="1417.6" y="66.29" font-size="25.6" text-anchor="end" fill="#000" stroke="#000" >1</text>
<text x="1417.6" y="155.61" font-size="25.6" text-anchor="end" fill="#000" stroke="#000" textLength="31.04" lengthAdjust="spacingAndGlyphs" >0.1</text>
<text x="1417.6" y="244.93" font-size="25.6" text-anchor="end" fill="#000" stroke="#000" textLength="42.78" lengthAdjust="spacingAndGlyphs" >0.01</text>
<text x="1435.9" y="335.3" font-size="25.6" text-anchor="middle" fill="#000" stroke="#000" textLength="42.78" lengthAdjust="spacingAndGlyphs" >0.01</text>
<text x="1513.97" y="335.3" font-size="25.6" text-anchor="middle" fill="#000" stroke="#000" textLength="31.04" lengthAdjust="spacingAndGlyphs" >0.1</text>
<text x="1592.04" y="335.3" font-size="25.6" text-anchor="middle" fill="#000" stroke="#000" >1</text>
<text x="1670.11" y="335.3" font-size="25.6" text-anchor="middle" fill="#000" stroke="#000" >10</text>
<text transform="translate(1326.07,29.2) scale(0.7830,1.0000)" font-size="42.6" fill="#000" stroke="#000">(</text>
<text transform="translate(1338.28,29.2) scale(1.0490,1.0000)" font-size="38.5" fill="#000" stroke="#000">d</text>
<text transform="translate(1359.06,29.2) scale(0.9287,1.0000)" font-size="42.6" fill="#000" stroke="#000">)</text>
<text transform="translate(1493.78,375.1) scale(1.0393,1.0000)" font-size="25.5" fill="#000" stroke="#000">Pulse width</text>
<text transform="translate(1628.63,375.1) scale(0.7186,1.0000)" font-size="27.5" fill="#000" stroke="#000">[</text>
<text transform="translate(1634.99,375.1) scale(0.8645,1.0000)" font-size="25.5" fill="#000" stroke="#000" font-weight="bold">γT</text>
<text transform="translate(1660.03,375.1) scale(0.5879,1.0000)" font-size="27.5" fill="#000" stroke="#000">]</text>
<text transform="translate(1360,190.8) rotate(-90) scale(1.1378,1.0000)" font-size="25.5" fill="#000" stroke="#000" font-style="italic">g</text>
<text transform="translate(1343.7,180.72) rotate(-90) scale(1.3070,0.9042)" font-size="11" fill="#000" stroke="#000">(2)</text>
<text transform="translate(1360,160.6) rotate(-90) scale(0.6505,1.0000)" font-size="29" fill="#000" stroke="#000">[</text>
<text transform="translate(1360.3,155.69) rotate(-90) scale(1.3644,1.0000)" font-size="20.5" fill="#000" stroke="#000">0</text>
<text transform="translate(1360,143.06) rotate(-90) scale(0.6505,1.0000)" font-size="29" fill="#000" stroke="#000">]</text>
</g>
</svg>
</body>
</html>
